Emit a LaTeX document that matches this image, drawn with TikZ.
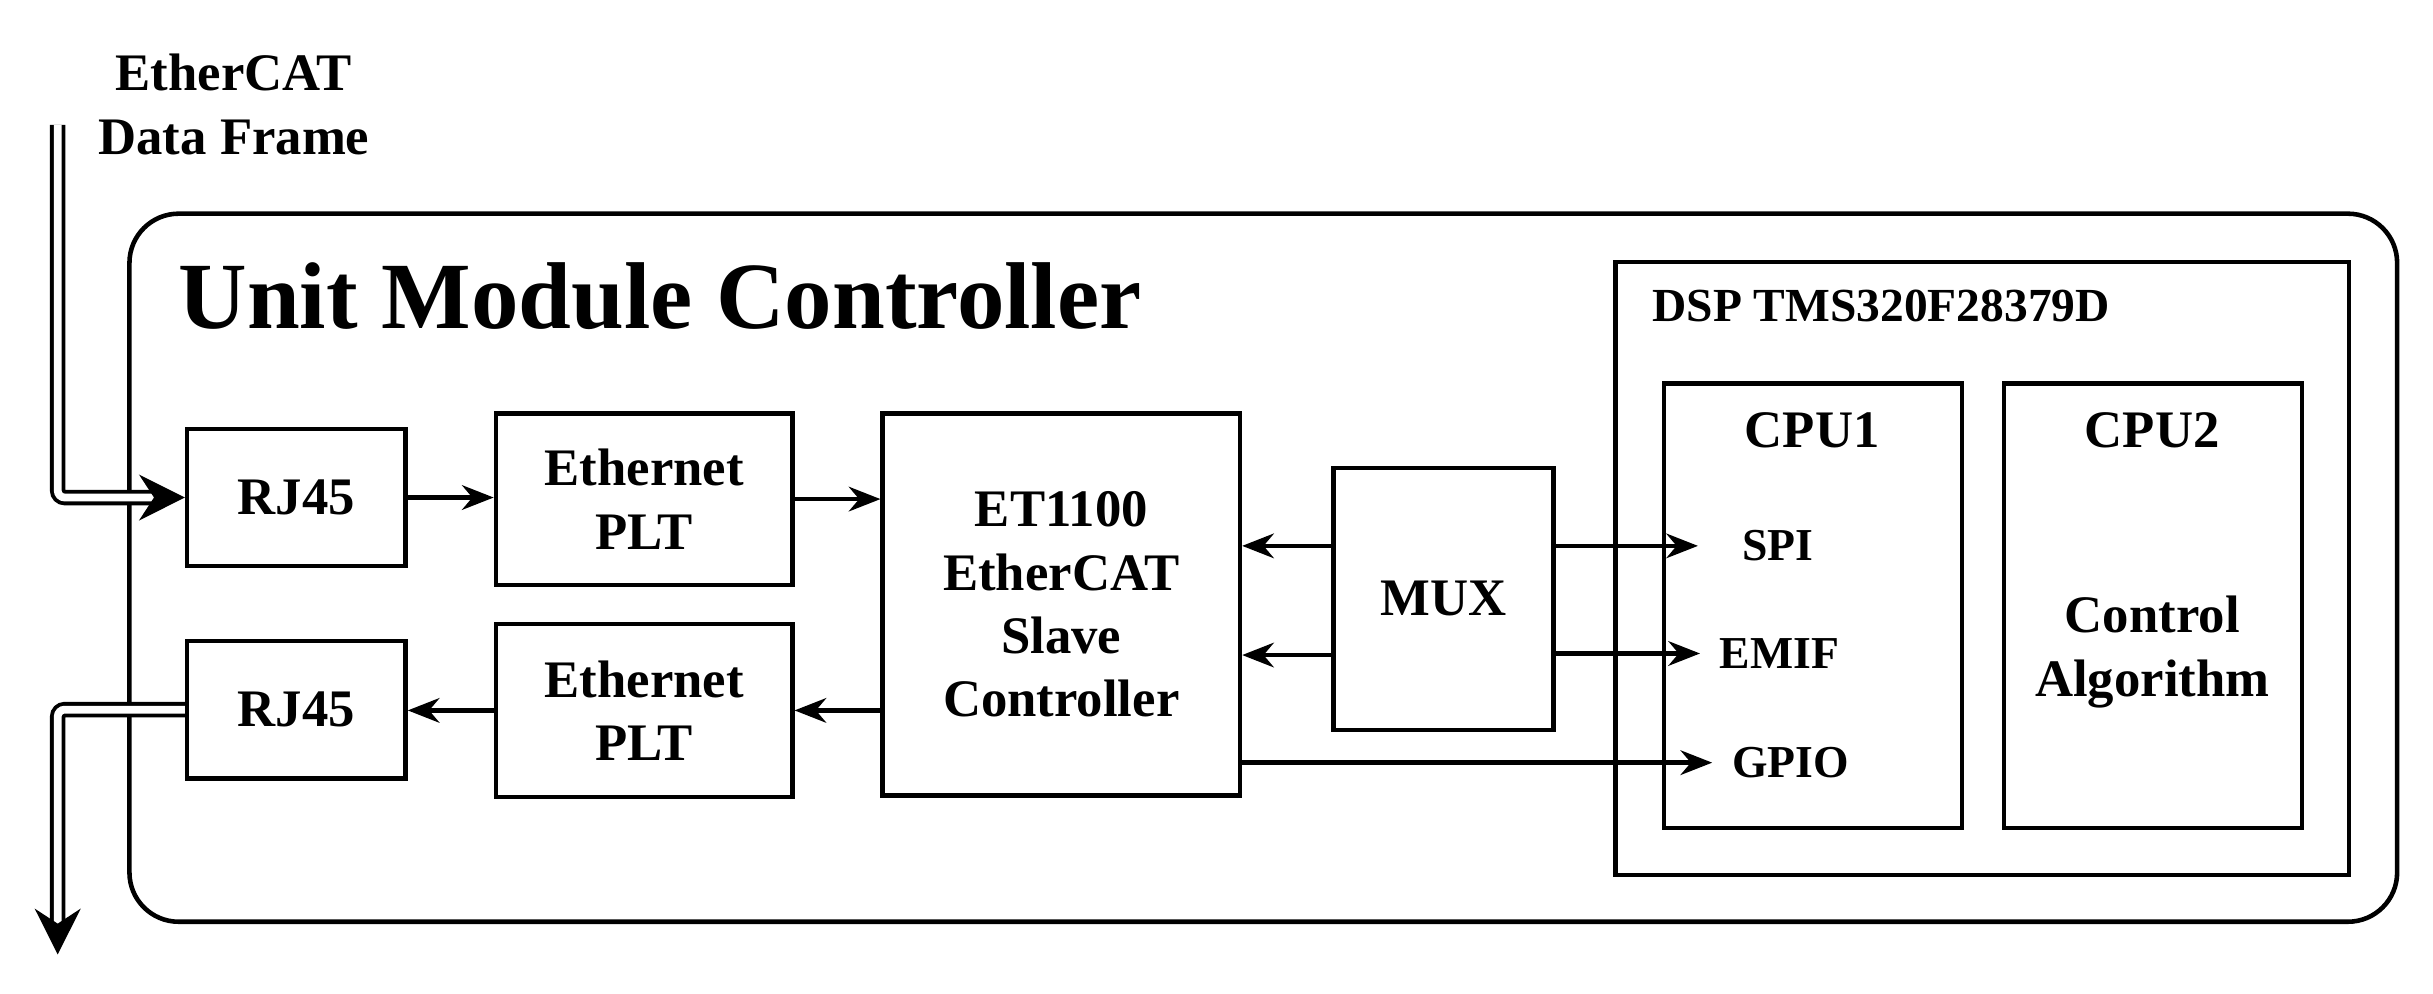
\documentclass[tikz,border=0pt]{standalone}
\usepackage{fontspec}
\setmainfont{Liberation Serif}
\usetikzlibrary{arrows.meta,positioning}
\begin{document}
\begin{tikzpicture}[x=0.0156cm, y=-0.0156cm, line width=1.3pt,
    block/.style={draw, rectangle, inner sep=0pt, font=\fontsize{15}{18}\selectfont\bfseries, align=center},
    lbl/.style={font=\fontsize{15}{18}\selectfont\bfseries, align=center, inner sep=0pt},
    port/.style={font=\fontsize{13}{16}\selectfont\bfseries, inner sep=0pt},
    sig/.style={-{Stealth[length=9pt,width=7pt]}},
    bus/.style={double, double distance=2.2pt, line width=1.1pt, rounded corners=2pt}
]
    \useasboundingbox (0,0) rectangle (1560,637);
    % frames
    \node[draw, rounded corners=14pt, minimum width=1454*0.0156cm, minimum height=454*0.0156cm] (umc) at (810,364) {};
    \node[anchor=west, font=\fontsize{27}{30}\selectfont\bfseries, inner sep=0pt] (title) at (113,190) {Unit Module Controller};
    \node[draw, minimum width=470*0.0156cm, minimum height=393*0.0156cm] (dsp) at (1271,364.5) {};
    \node[anchor=west, font=\fontsize{13.5}{16}\selectfont\bfseries, inner sep=0pt] (dsplbl) at (1058,196) {DSP TMS320F28379D};
    \node[block, minimum width=191*0.0156cm, minimum height=285*0.0156cm] (cpu1) at (1162.5,388.5) {};
    \node[block, minimum width=191*0.0156cm, minimum height=285*0.0156cm] (cpu2) at (1380.5,388.5) {};
    \node[lbl] (cpu1lbl) at (1162,276) {CPU1};
    \node[lbl] (cpu2lbl) at (1380,276) {CPU2};
    \node[lbl] (alg) at (1380,418) {Control\\Algorithm};
    \node[port] (spi) at (1140,350) {SPI};
    \node[port] (emif) at (1141,419) {EMIF};
    \node[port] (gpio) at (1148,489) {GPIO};
    % blocks
    \node[block, minimum width=140*0.0156cm, minimum height=88*0.0156cm] (rjin) at (190,319) {RJ45};
    \node[block, minimum width=140*0.0156cm, minimum height=88*0.0156cm] (rjout) at (190,455) {RJ45};
    \node[block, minimum width=190*0.0156cm, minimum height=110*0.0156cm] (pltin) at (413,320) {Ethernet\\PLT};
    \node[block, minimum width=190*0.0156cm, minimum height=111*0.0156cm] (pltout) at (413,455.5) {Ethernet\\PLT};
    \node[block, minimum width=229*0.0156cm, minimum height=245*0.0156cm] (esc) at (680.5,387.5) {ET1100\\EtherCAT\\Slave\\Controller};
    \node[block, minimum width=141*0.0156cm, minimum height=168*0.0156cm] (mux) at (925.5,384) {MUX};
    \node[lbl] (frame) at (150,67) {EtherCAT\\Data Frame};
    \coordinate (busin) at (37,80);
    \coordinate (busout) at (37,612);
    % connectors
    \draw[sig] (rjin.east) -- (pltin.west |- rjin.east);
    \draw[sig] (pltin.east) -- (esc.west |- pltin.east);
    \draw[sig] (esc.west |- pltout.west) -- (pltout.west -| pltout.east);
    \draw[sig] (pltout.west) -- (rjout.east |- pltout.west);
    \draw[sig] (mux.west |- 0,350) -- (esc.east |- 0,350);
    \draw[sig] (mux.west |- 0,420) -- (esc.east |- 0,420);
    \draw[sig] (mux.east |- spi) -- ([xshift=-12pt]spi.west);
    \draw[sig] (mux.east |- emif) -- ([xshift=-5pt]emif.west);
    \draw[sig] (esc.east |- gpio) -- ([xshift=-5pt]gpio.west);
    \draw[bus, -{Stealth[length=13pt,width=13pt]}] (busin) |- (rjin.west);
    \draw[bus, -{Stealth[length=13pt,width=13pt]}] (rjout.west) -| (busout);
\end{tikzpicture}
\end{document}
